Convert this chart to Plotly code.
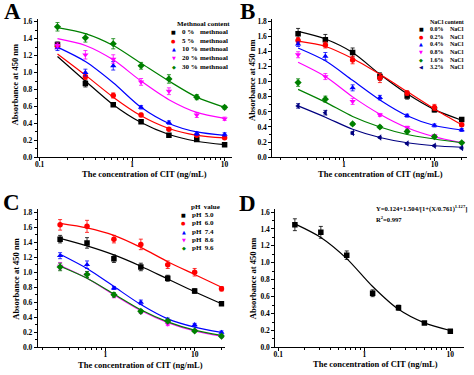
import plotly.graph_objects as go

W, H = 474, 375

# ---------------- data ----------------
xA = [0.156, 0.3125, 0.625, 1.25, 2.5, 5, 10]
A_names = ["0 %", "5 %", "10 %", "20 %", "30 %"]
A_pts = [
    [1.33, 0.87, 0.62, 0.42, 0.26, 0.21, 0.15],
    [1.31, 0.95, 0.73, 0.50, 0.33, 0.26, 0.23],
    [1.29, 1.00, 1.08, 0.59, 0.41, 0.28, 0.27],
    [1.32, 1.21, 1.16, 0.89, 0.78, 0.50, 0.455],
    [1.54, 1.41, 1.34, 1.08, 0.925, 0.71, 0.59],
]
A_err = [
    [0.03, 0.04, 0.02, 0.02, 0.01, 0.01, 0.01],
    [0.02, 0.03, 0.03, 0.02, 0.01, 0.01, 0.01],
    [0.03, 0.04, 0.05, 0.02, 0.02, 0.02, 0.02],
    [0.03, 0.05, 0.05, 0.04, 0.04, 0.03, 0.02],
    [0.05, 0.05, 0.06, 0.04, 0.05, 0.03, 0.02],
]
A_fit = [
    [1.19, 0.90, 0.62, 0.41, 0.27, 0.19, 0.15],
    [1.22, 0.97, 0.71, 0.49, 0.34, 0.26, 0.23],
    [1.30, 1.13, 0.88, 0.59, 0.40, 0.30, 0.26],
    [1.40, 1.32, 1.15, 0.90, 0.68, 0.53, 0.46],
    [1.53, 1.46, 1.32, 1.11, 0.90, 0.71, 0.59],
]

xB = [0.3125, 0.625, 1.25, 2.5, 5, 10, 20]
B_names = ["0.0%", "0.2%", "0.4%", "0.8%", "1.6%", "3.2%"]
B_pts = [
    [1.64, 1.56, 1.39, 1.07, 0.81, 0.63, 0.50],
    [1.55, 1.49, 1.29, 1.05, 0.85, 0.66, 0.43],
    [1.50, 1.34, 0.92, 0.79, 0.55, 0.42, 0.36],
    [1.36, 1.07, 0.74, 0.56, 0.39, 0.28, 0.19],
    [0.99, 0.77, 0.44, 0.40, 0.34, 0.27, 0.19],
    [0.68, 0.59, 0.32, 0.26, 0.18, 0.15, 0.12],
]
B_err = [
    [0.07, 0.07, 0.06, 0.05, 0.04, 0.03, 0.02],
    [0.04, 0.04, 0.05, 0.06, 0.03, 0.04, 0.02],
    [0.03, 0.05, 0.04, 0.03, 0.02, 0.02, 0.02],
    [0.04, 0.04, 0.04, 0.02, 0.02, 0.02, 0.01],
    [0.05, 0.04, 0.02, 0.02, 0.02, 0.02, 0.01],
    [0.03, 0.03, 0.02, 0.01, 0.01, 0.01, 0.01],
]
B_fit = [
    [1.67, 1.57, 1.39, 1.10, 0.84, 0.63, 0.49],
    [1.54, 1.47, 1.31, 1.10, 0.87, 0.64, 0.43],
    [1.45, 1.28, 1.02, 0.76, 0.55, 0.42, 0.36],
    [1.26, 1.07, 0.80, 0.57, 0.39, 0.27, 0.19],
    [0.90, 0.73, 0.54, 0.40, 0.30, 0.24, 0.19],
    [0.68, 0.53, 0.37, 0.26, 0.19, 0.15, 0.13],
]

xC = [0.3125, 0.625, 1.25, 2.5, 5, 10, 20]
C_names = ["5.0", "6.0", "7.4", "8.6", "9.6"]
C_pts = [
    [1.44, 1.39, 1.18, 1.07, 0.92, 0.75, 0.58],
    [1.63, 1.61, 1.44, 1.37, 1.10, 1.00, 0.78],
    [1.22, 1.10, 0.79, 0.60, 0.37, 0.30, 0.20],
    [1.08, 0.97, 0.69, 0.47, 0.31, 0.22, 0.14],
    [1.07, 0.97, 0.70, 0.48, 0.35, 0.22, 0.15],
]
C_err = [
    [0.05, 0.07, 0.05, 0.05, 0.04, 0.03, 0.02],
    [0.07, 0.08, 0.05, 0.07, 0.05, 0.05, 0.03],
    [0.04, 0.05, 0.02, 0.03, 0.02, 0.02, 0.02],
    [0.05, 0.04, 0.03, 0.02, 0.02, 0.01, 0.01],
    [0.05, 0.04, 0.03, 0.02, 0.02, 0.01, 0.01],
]
C_fit = [
    [1.45, 1.35, 1.23, 1.08, 0.91, 0.74, 0.58],
    [1.65, 1.59, 1.49, 1.33, 1.14, 0.97, 0.80],
    [1.24, 1.05, 0.81, 0.57, 0.38, 0.27, 0.20],
    [1.09, 0.92, 0.70, 0.49, 0.33, 0.22, 0.15],
    [1.08, 0.92, 0.71, 0.50, 0.34, 0.23, 0.16],
]

xD = [0.156, 0.3125, 0.625, 1.25, 2.5, 5, 10]
D_pts = [1.45, 1.36, 1.09, 0.64, 0.47, 0.29, 0.19]
D_err = [0.07, 0.07, 0.05, 0.04, 0.03, 0.01, 0.01]
D_fit = [1.46, 1.30, 1.05, 0.72, 0.45, 0.29, 0.20]

major_ticks = [0.1, 1, 10]
major_text = ["0.1", "1", "10"]
minor_ticks = [0.2, 0.3, 0.4, 0.5, 0.6, 0.7, 0.8, 0.9,
               2, 3, 4, 5, 6, 7, 8, 9, 20, 30]

# ---------------- style ----------------
SERIF = "Liberation Serif"
colors6 = ["#000000", "#ff0000", "#0000ff", "#ff00ff", "#008000", "#000080"]
symbols6 = ["square", "circle", "triangle-up", "triangle-down", "diamond", "triangle-left"]
glyphs6 = ["■", "●", "▲", "▼", "◆", "◀"]

fig = go.Figure()


def px_x(p):
    return p / W


def px_y(p):
    return 1 - p / H


def add_series(x, pts, err, fit, color, symbol, xa, ya):
    fig.add_trace(go.Scatter(
        x=x, y=fit, mode="lines", line=dict(color=color, width=1.2, shape="spline", smoothing=0.8),
        xaxis=xa, yaxis=ya, showlegend=False, hoverinfo="skip"))
    fig.add_trace(go.Scatter(
        x=x, y=pts, mode="markers",
        marker=dict(color=color, symbol=symbol, size=5.5, line=dict(width=0)),
        error_y=dict(type="data", array=err, color=color, thickness=0.8, width=2),
        xaxis=xa, yaxis=ya, showlegend=False))


for i in range(5):
    add_series(xA, A_pts[i], A_err[i], A_fit[i], colors6[i], symbols6[i], "x", "y")
for i in range(6):
    add_series(xB, B_pts[i], B_err[i], B_fit[i], colors6[i], symbols6[i], "x2", "y2")
for i in range(5):
    add_series(xC, C_pts[i], C_err[i], C_fit[i], colors6[i], symbols6[i], "x3", "y3")
add_series(xD, D_pts, D_err, D_fit, "#000000", "square", "x4", "y4")

tickfont = dict(family=SERIF, size=7.5, color="black", weight="bold")


def xaxis(l, r, lo, hi, anchor):
    return dict(type="log", domain=[px_x(l), px_x(r)], range=[lo, hi], anchor=anchor,
                showline=True, linecolor="black", linewidth=1, showgrid=False, zeroline=False,
                ticks="outside", ticklen=3, tickwidth=1, tickcolor="black",
                ticklabelstandoff=-3,
                tickmode="array", tickvals=major_ticks, ticktext=major_text, tickfont=tickfont,
                minor=dict(ticks="outside", ticklen=2, tickwidth=1, tickcolor="black",
                           tickmode="array", tickvals=minor_ticks, showgrid=False))


def yaxis(bot, top, hi, anchor):
    return dict(domain=[px_y(bot), px_y(top)], range=[0, hi], anchor=anchor,
                showline=True, linecolor="black", linewidth=1, showgrid=False, zeroline=False,
                ticks="outside", ticklen=3, tickwidth=1, tickcolor="black",
                dtick=0.2, tick0=0, tickformat=".1f", tickfont=tickfont,
                minor=dict(ticks="outside", ticklen=2, tickwidth=1, tickcolor="black", dtick=0.1,
                           showgrid=False))


fig.update_layout(
    width=W, height=H, margin=dict(l=0, r=0, t=0, b=0),
    paper_bgcolor="white", plot_bgcolor="white", showlegend=False,
    xaxis=xaxis(35, 230, -1.02, 1.075, "y"),
    yaxis=yaxis(158.3, 17.5, 1.63, "x"),
    xaxis2=xaxis(271, 467, -0.79, 1.36, "y2"),
    yaxis2=yaxis(158.0, 17.5, 1.833, "x2"),
    xaxis3=xaxis(35, 223, -0.755, 1.335, "y3"),
    yaxis3=yaxis(352, 211, 1.84, "x3"),
    xaxis4=xaxis(274, 464, -1.035, 1.16, "y4"),
    yaxis4=yaxis(352, 211, 1.635, "x4"),
)

ann = []


def text(x, y, s, size=7, xanchor="left", family=SERIF, color="black", bold=True, angle=0):
    ann.append(dict(xref="paper", yref="paper", x=px_x(x), y=px_y(y), text=s, showarrow=False,
                    xanchor=xanchor, yanchor="middle", textangle=angle, borderpad=0,
                    font=dict(family=family, size=size, color=color,
                              weight="bold" if bold else "normal")))


# panel letters
for lx, ly, s in [(10, 10, "A"), (246, 10, "B"), (9, 204, "C"), (246, 205.5, "D")]:
    text(lx, ly, s, size=23, xanchor="center")

# axis titles
for cx, cy in [(142, 175), (380, 175), (138.5, 370), (374.5, 369)]:
    text(cx, cy, "The concentration of CIT (ng/mL)", size=8.5, xanchor="center")
for cx, cy in [(13, 84), (250, 80), (13, 282), (251, 282)]:
    text(cx, cy, "Absorbance at 450 nm", size=8.5, xanchor="center", angle=-90)

# legend A
text(202, 22, "Methnoal content", size=7, xanchor="center")
for i, yy in enumerate([31, 39.5, 48, 57, 66]):
    text(172, yy, glyphs6[i], size=5, xanchor="center", family="DejaVu Sans", color=colors6[i])
    text(179, yy, A_names[i], size=7)
    text(197, yy, "methnoal", size=7)

# legend B
text(447, 20, "NaCl content", size=6, xanchor="center")
for i, yy in enumerate([27.7, 35.7, 43.3, 51, 59, 66.7]):
    text(421, yy, glyphs6[i], size=5, xanchor="center", family="DejaVu Sans", color=colors6[i])
    text(429, yy, B_names[i], size=6)
    text(449, yy, "NaCl", size=6)

# legend C
text(203.5, 208.7, "pH&nbsp;&nbsp;value", size=7, xanchor="center")
for i, yy in enumerate([217.3, 225.3, 234, 242.7, 250.7]):
    text(182, yy, glyphs6[i], size=5, xanchor="center", family="DejaVu Sans", color=colors6[i])
    text(189, yy, "pH&nbsp;&nbsp;" + C_names[i], size=7)

# equation D
text(374, 210.7, "Y=0.124+1.504/[1+(X/0.761)<sup>1.127</sup>]", size=6.6)
text(374, 221, "R<sup>2</sup>=0.997", size=6.6)

fig.update_layout(annotations=ann)
fig.write_html("out.html", config={"displayModeBar": False},
               post_script="document.body.style.margin='0';document.body.style.padding='0';")
